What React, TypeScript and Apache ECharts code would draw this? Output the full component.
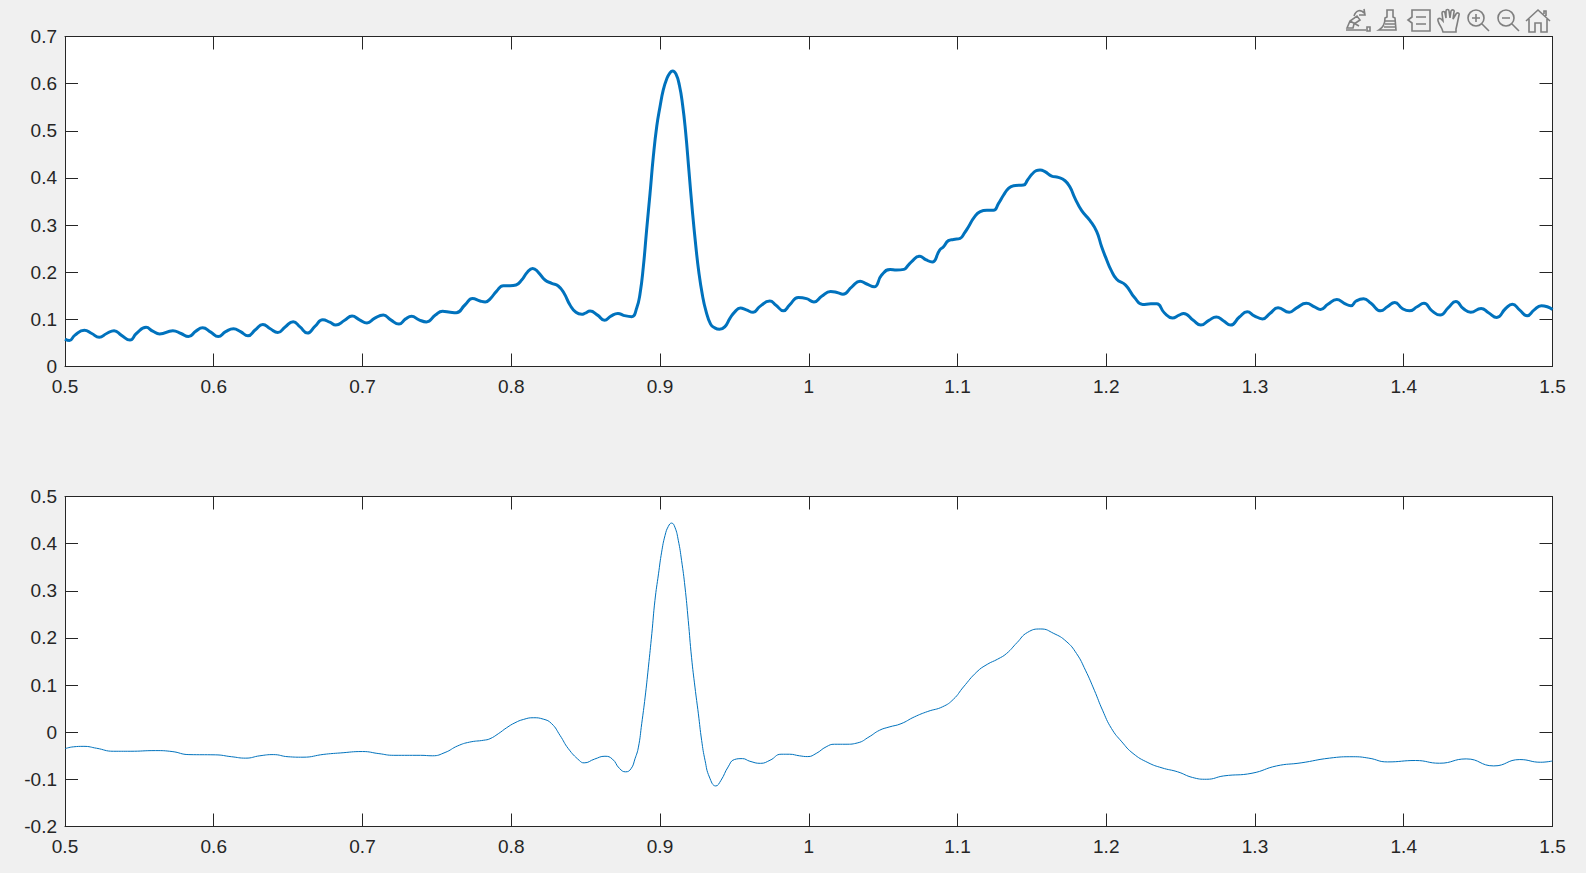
import React, { useEffect, useRef } from "react";
import * as echarts from "echarts";

const topX = [0.5,0.503,0.5065,0.513,0.518,0.523,0.528,0.533,0.538,0.5437,0.548,0.5545,0.559,0.5636,0.5725,0.578,0.583,0.588,0.5925,0.598,0.603,0.608,0.6133,0.618,0.623,0.628,0.633,0.638,0.643,0.648,0.6534,0.658,0.663,0.668,0.6733,0.678,0.682,0.688,0.693,0.698,0.703,0.708,0.714,0.719,0.7245,0.729,0.733,0.738,0.743,0.749,0.7538,0.759,0.763,0.769,0.774,0.779,0.7825,0.7857,0.7902,0.7947,0.7992,0.8032,0.807,0.8108,0.8144,0.8182,0.8227,0.8272,0.8316,0.8355,0.8395,0.8435,0.8475,0.8493,0.853,0.858,0.8627,0.867,0.8717,0.876,0.881,0.8843,0.8866,0.8888,0.891,0.8933,0.8955,0.8978,0.9,0.9022,0.9045,0.9067,0.9085,0.9107,0.913,0.9152,0.9172,0.9195,0.9217,0.924,0.9262,0.9285,0.9307,0.934,0.9368,0.94,0.9435,0.947,0.9503,0.954,0.958,0.9626,0.967,0.9738,0.978,0.983,0.987,0.993,0.9985,1.0035,1.0087,1.0147,1.019,1.023,1.029,1.0345,1.039,1.044,1.049,1.0547,1.059,1.064,1.0665,1.069,1.0744,1.079,1.083,1.088,1.0906,1.0939,1.0973,1.1018,1.1045,1.1074,1.1112,1.1153,1.1198,1.1242,1.1276,1.131,1.1343,1.1377,1.1444,1.1471,1.15,1.153,1.1555,1.1588,1.1633,1.1678,1.1723,1.1757,1.179,1.1835,1.1891,1.1936,1.1969,1.2003,1.203,1.207,1.213,1.219,1.2245,1.23,1.234,1.239,1.2445,1.249,1.252,1.2585,1.2636,1.269,1.274,1.2787,1.2836,1.2895,1.2948,1.2995,1.305,1.31,1.3155,1.323,1.328,1.3345,1.34,1.344,1.349,1.355,1.36,1.3645,1.368,1.373,1.378,1.3845,1.389,1.394,1.399,1.4038,1.409,1.4136,1.419,1.4245,1.43,1.435,1.44,1.445,1.452,1.457,1.4625,1.4685,1.473,1.478,1.483,1.4875,1.4925,1.4965,1.5];
const topY = [0.058,0.055,0.066,0.077,0.07,0.062,0.07,0.076,0.066,0.056,0.07,0.083,0.075,0.069,0.076,0.07,0.0635,0.075,0.082,0.073,0.0635,0.074,0.08,0.074,0.065,0.078,0.089,0.08,0.072,0.084,0.095,0.084,0.071,0.085,0.099,0.094,0.088,0.098,0.107,0.099,0.0925,0.102,0.109,0.099,0.09,0.101,0.1066,0.099,0.0946,0.109,0.117,0.115,0.114,0.131,0.144,0.139,0.137,0.143,0.16,0.1714,0.1714,0.173,0.1835,0.2,0.208,0.1998,0.1835,0.1765,0.1708,0.1553,0.1305,0.115,0.111,0.1125,0.1175,0.109,0.098,0.107,0.1125,0.108,0.1056,0.1235,0.155,0.2117,0.2895,0.367,0.445,0.509,0.551,0.5866,0.61,0.623,0.627,0.6205,0.597,0.5547,0.498,0.4133,0.332,0.2577,0.1977,0.1517,0.12,0.09,0.082,0.079,0.084,0.102,0.116,0.124,0.12,0.115,0.127,0.139,0.13,0.118,0.13,0.1465,0.144,0.137,0.149,0.159,0.157,0.1535,0.169,0.181,0.175,0.169,0.194,0.206,0.2045,0.206,0.2135,0.222,0.234,0.226,0.2215,0.247,0.254,0.267,0.2696,0.2718,0.2824,0.2965,0.3163,0.3284,0.3312,0.3312,0.346,0.3638,0.378,0.3836,0.385,0.3956,0.4076,0.4154,0.4168,0.4133,0.404,0.4013,0.394,0.38,0.3567,0.3305,0.3093,0.286,0.254,0.226,0.206,0.185,0.1727,0.1465,0.1316,0.133,0.133,0.114,0.103,0.109,0.1125,0.098,0.0878,0.098,0.105,0.097,0.0878,0.105,0.116,0.1076,0.101,0.1125,0.1245,0.115,0.1245,0.134,0.1267,0.121,0.132,0.142,0.134,0.129,0.139,0.1437,0.134,0.118,0.1267,0.136,0.123,0.118,0.1267,0.134,0.118,0.109,0.125,0.138,0.123,0.115,0.123,0.114,0.104,0.123,0.132,0.1196,0.1076,0.1196,0.129,0.1267,0.121];

const bottomX = [0.5,0.5056,0.5127,0.5212,0.5325,0.5438,0.5607,0.572,0.5833,0.601,0.612,0.6215,0.631,0.64,0.65,0.66,0.674,0.685,0.7,0.711,0.721,0.739,0.747,0.7555,0.764,0.772,0.7815,0.7857,0.7913,0.7969,0.8025,0.8081,0.8148,0.8215,0.8272,0.8328,0.8384,0.8458,0.849,0.856,0.863,0.868,0.8728,0.8769,0.8805,0.8832,0.8855,0.8877,0.89,0.8922,0.8945,0.8966,0.899,0.9011,0.9034,0.9056,0.9078,0.91,0.9123,0.9145,0.9168,0.919,0.9212,0.9235,0.9258,0.928,0.9303,0.9332,0.9375,0.941,0.9458,0.95,0.9554,0.9604,0.9675,0.974,0.9814,0.987,0.9937,0.9993,1.005,1.0117,1.0173,1.025,1.033,1.0405,1.0475,1.054,1.062,1.071,1.08,1.09,1.0973,1.104,1.113,1.12,1.127,1.133,1.14,1.147,1.156,1.1647,1.173,1.18,1.186,1.192,1.1975,1.2035,1.2105,1.218,1.228,1.2375,1.248,1.258,1.2675,1.279,1.298,1.3145,1.331,1.35,1.366,1.3765,1.389,1.408,1.424,1.442,1.4605,1.478,1.492,1.5];
const bottomY = [-0.035,-0.031,-0.03,-0.034,-0.0404,-0.0404,-0.039,-0.041,-0.0475,-0.048,-0.052,-0.055,-0.05,-0.0475,-0.052,-0.053,-0.047,-0.044,-0.041,-0.0454,-0.049,-0.049,-0.05,-0.043,-0.029,-0.021,-0.017,-0.0138,-0.0032,0.0095,0.02,0.027,0.0307,0.0278,0.018,-0.0068,-0.035,-0.06,-0.065,-0.057,-0.051,-0.057,-0.077,-0.084,-0.0775,-0.0563,-0.0316,0.018,0.0745,0.138,0.209,0.2796,0.336,0.382,0.4175,0.4366,0.4436,0.435,0.407,0.3645,0.308,0.237,0.159,0.0957,0.039,-0.0174,-0.06,-0.095,-0.114,-0.102,-0.0736,-0.058,-0.056,-0.0616,-0.066,-0.0594,-0.0467,-0.0467,-0.05,-0.0517,-0.045,-0.031,-0.0255,-0.0255,-0.0225,-0.01,0.004,0.011,0.018,0.0325,0.044,0.054,0.07,0.096,0.128,0.144,0.155,0.167,0.19,0.2116,0.219,0.2095,0.193,0.167,0.1316,0.089,0.0467,0.008,-0.0205,-0.045,-0.0644,-0.0757,-0.084,-0.096,-0.0998,-0.0927,-0.087,-0.0715,-0.065,-0.055,-0.052,-0.055,-0.063,-0.06,-0.0658,-0.0566,-0.0715,-0.058,-0.0637,-0.061];

const xTicks = ["0.5","0.6","0.7","0.8","0.9","1","1.1","1.2","1.3","1.4","1.5"];

const INK = "#262626";
const FONT = "'Liberation Sans', Arial, sans-serif";

const ICONS: Record<string, string> = {
  edit: "M1 19 L4 12 L11 7 L14 11 L8 15 L7 19 Z M4 12 L13 17 M8 7 C10 1 15 0 18 4 M18 0 L19 6 L13 6 M0 21 L20 21 M21 18 L24 18 L24 22 L21 22 Z",
  brush: "M9 1 L15 1 L15 8 L17 9 L18 21 L1 21 C6 18 7 14 7 9 L9 8 Z M7 12 L17 12 M7 15 L17 15 M6 18 L17 18",
  legend: "M5 1 L23 1 L23 22 L5 22 L5 14 L1 11 L5 8 Z M9 8 L19 8 M9 15 L19 15",
  hand: "M5 20 C3 16 0 12 1 10 C3 8 5 11 6 12 L5 4 C5 2 8 2 8 4 L9 9 L9 2 C9 0 12 0 12 2 L13 9 L14 2 C15 0 18 1 17 3 L16 10 L19 5 C20 3 23 4 22 6 C21 11 20 16 19 20 L19 23 L6 23 Z",
  zoomIn: "M9 1 A8 8 0 1 0 9 17 A8 8 0 1 0 9 1 Z M9 5 L9 13 M5 9 L13 9 M15 15 L22 22",
  zoomOut: "M9 1 A8 8 0 1 0 9 17 A8 8 0 1 0 9 1 Z M5 9 L13 9 M15 15 L22 22",
  home: "M0 12 L12 1 L24 12 M3 10 L3 23 L9 23 L9 14 L15 14 L15 23 L21 23 L21 10 M18 5 L18 2 L20 2 L20 7",
};
const iconOrder = ["edit", "brush", "legend", "hand", "zoomIn", "zoomOut", "home"];
const iconLeft = [1346, 1378, 1407, 1437, 1467, 1497, 1526];

iconOrder.forEach((k) => {
  echarts.graphic.registerShape("tb_" + k, echarts.graphic.extendPath(ICONS[k] as any, {} as any));
});

const zip = (a: number[], b: number[]) => a.map((v, i) => [v, b[i]]);

export default function App() {
  const ref = useRef<HTMLDivElement>(null);
  useEffect(() => {
    const chart = echarts.init(ref.current!, undefined, { renderer: "svg" });
    const grids = [
      { left: 65, right: 33.5, top: 36.5, height: 330 },
      { left: 65, right: 33.5, top: 496.5, height: 330 },
    ];
    const line = { show: true, onZero: false, lineStyle: { color: INK, width: 1 } };
    const tick = { show: true, inside: true, length: 13, lineStyle: { color: INK, width: 1 } };
    const xAxes: any[] = [];
    const yAxes: any[] = [];
    const ranges = [[0, 0.7], [-0.2, 0.5]];
    grids.forEach((_, g) => {
      ["bottom", "top"].forEach((position, k) => {
        xAxes.push({
          type: "value", gridIndex: g, position, min: 0.5, max: 1.5, interval: 0.1,
          axisLine: line, axisTick: tick, splitLine: { show: false },
          axisLabel: {
            show: k === 0, color: INK, fontFamily: FONT, fontSize: 19, margin: 10,
            showMinLabel: true, showMaxLabel: true,
            formatter: (v: number) => xTicks[Math.round((v - 0.5) * 10)],
          },
        });
        yAxes.push({
          type: "value", gridIndex: g, position: k === 0 ? "left" : "right",
          min: ranges[g][0], max: ranges[g][1], interval: 0.1,
          axisLine: line, axisTick: tick, splitLine: { show: false },
          axisLabel: {
            show: k === 0, color: INK, fontFamily: FONT, fontSize: 19, margin: 8,
            showMinLabel: true, showMaxLabel: true,
            formatter: (v: number) => String(Math.round(v * 10) / 10),
          },
        });
      });
    });
    chart.setOption({
      animation: false,
      backgroundColor: "#f0f0f0",
      grid: grids.map((g) => ({ ...g, show: true, backgroundColor: "#ffffff", borderWidth: 0 })),
      xAxis: xAxes,
      yAxis: yAxes,
      series: [
        {
          type: "line", xAxisIndex: 0, yAxisIndex: 0, data: zip(topX, topY), showSymbol: false,
          smooth: 0.5, lineStyle: { color: "#0072BD", width: 3 }, silent: true,
        },
        {
          type: "line", xAxisIndex: 2, yAxisIndex: 2, data: zip(bottomX, bottomY), showSymbol: false,
          smooth: 0.5, lineStyle: { color: "#0072BD", width: 1 }, silent: true,
        },
      ],
      graphic: iconOrder.map((k, i) => ({
        type: "tb_" + k, x: iconLeft[i], y: 9,
        style: { fill: "none", stroke: "#7f7f7f", lineWidth: 1.6 },
        silent: true,
      })),
    });
    return () => chart.dispose();
  }, []);
  return <div ref={ref} style={{ position: "fixed", left: 0, top: 0, width: 1586, height: 873 }} />;
}
